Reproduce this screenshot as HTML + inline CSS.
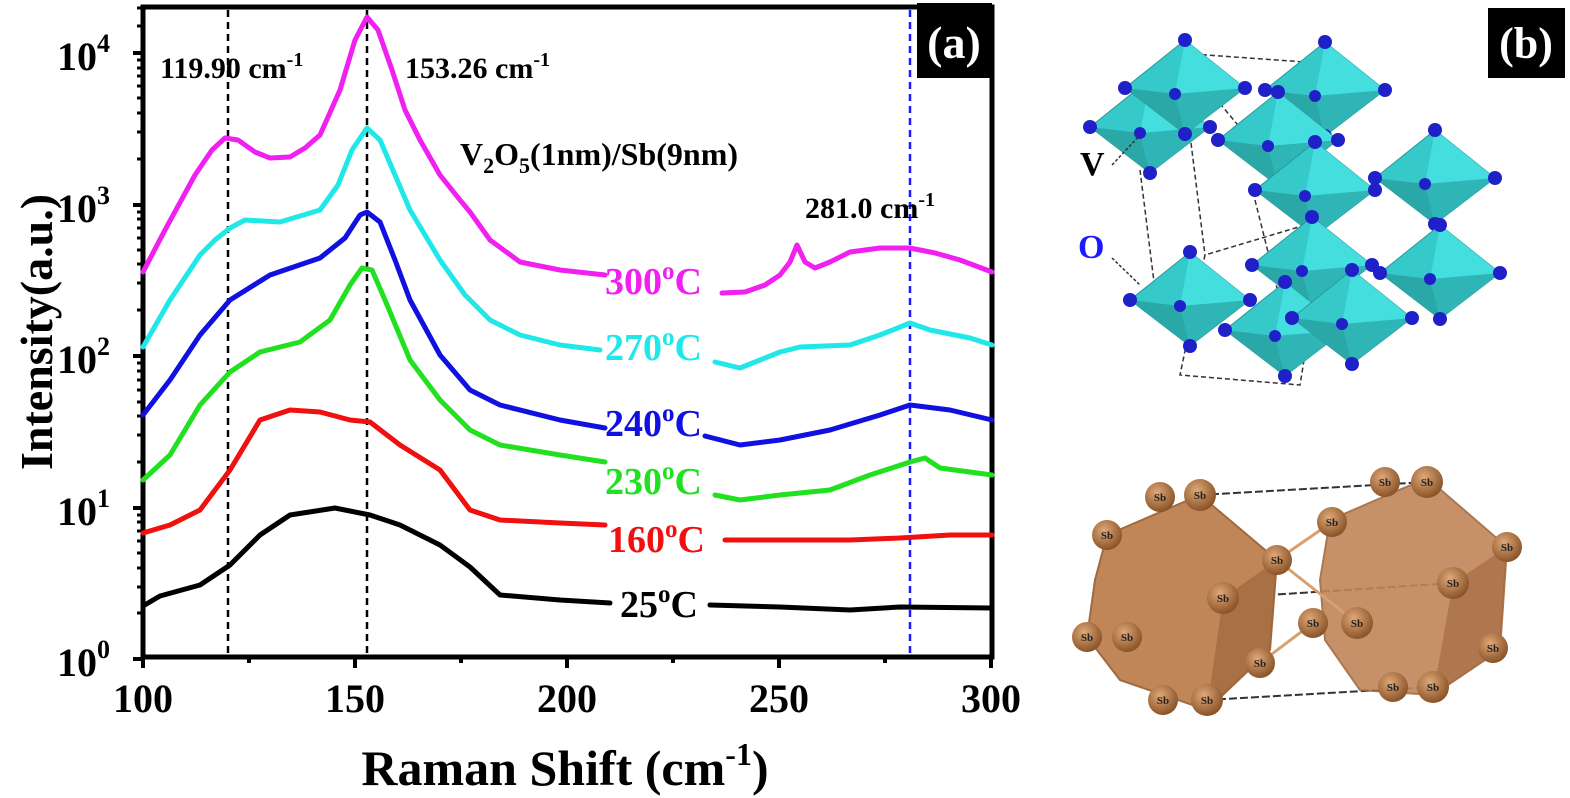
<!DOCTYPE html>
<html><head><meta charset="utf-8"><style>
html,body{margin:0;padding:0;background:#fff;width:1570px;height:798px;overflow:hidden}
svg{display:block}
text{font-family:"Liberation Serif",serif;font-weight:bold}
</style></head><body>
<svg width="1570" height="798" viewBox="0 0 1570 798" xmlns="http://www.w3.org/2000/svg">
<defs>
<g id="oct">
<polygon points="-60,0 0,-48 60,0 0,46" fill="#35c9c9" stroke="#2a9a9a" stroke-width="1"/>
<polygon points="-60,0 -10,6 0,46" fill="#2aa8a8"/>
<polygon points="-10,6 60,0 0,46" fill="#2fb5b5"/>
<polygon points="0,-48 -10,6 60,0" fill="#45dede"/>
<circle cx="-60" cy="0" r="7" fill="#2020c8"/><circle cx="0" cy="-48" r="7" fill="#2020c8"/>
<circle cx="60" cy="0" r="7" fill="#2020c8"/><circle cx="0" cy="46" r="7" fill="#2020c8"/>
<circle cx="-10" cy="6" r="6" fill="#2020c8"/>
</g>
<radialGradient id="sb" cx="40%" cy="35%" r="65%"><stop offset="0" stop-color="#e0a878"/><stop offset="1" stop-color="#8a5428"/></radialGradient>
</defs>

<rect x="143" y="7" width="849" height="650" fill="none" stroke="#000" stroke-width="5"/>
<g stroke="#000" stroke-width="4">
<line x1="143" y1="657" x2="143" y2="668"/><line x1="355" y1="657" x2="355" y2="668"/><line x1="567" y1="657" x2="567" y2="668"/><line x1="779" y1="657" x2="779" y2="668"/><line x1="991" y1="657" x2="991" y2="668"/>
<line x1="249" y1="657" x2="249" y2="663"/><line x1="461" y1="657" x2="461" y2="663"/><line x1="673" y1="657" x2="673" y2="663"/><line x1="885" y1="657" x2="885" y2="663"/>
<line x1="133" y1="53" x2="143" y2="53"/><line x1="133" y1="205" x2="143" y2="205"/><line x1="133" y1="356" x2="143" y2="356"/><line x1="133" y1="508" x2="143" y2="508"/><line x1="133" y1="659" x2="143" y2="659"/>
</g>
<g stroke="#000" stroke-width="3">
<line x1="137" y1="613" x2="143" y2="613"/><line x1="137" y1="587" x2="143" y2="587"/><line x1="137" y1="568" x2="143" y2="568"/><line x1="137" y1="553" x2="143" y2="553"/><line x1="137" y1="541" x2="143" y2="541"/><line x1="137" y1="531" x2="143" y2="531"/><line x1="137" y1="522" x2="143" y2="522"/><line x1="137" y1="515" x2="143" y2="515"/>
<line x1="137" y1="462" x2="143" y2="462"/><line x1="137" y1="435" x2="143" y2="435"/><line x1="137" y1="416" x2="143" y2="416"/><line x1="137" y1="402" x2="143" y2="402"/><line x1="137" y1="390" x2="143" y2="390"/><line x1="137" y1="380" x2="143" y2="380"/><line x1="137" y1="371" x2="143" y2="371"/><line x1="137" y1="363" x2="143" y2="363"/>
<line x1="137" y1="310" x2="143" y2="310"/><line x1="137" y1="283" x2="143" y2="283"/><line x1="137" y1="264" x2="143" y2="264"/><line x1="137" y1="250" x2="143" y2="250"/><line x1="137" y1="238" x2="143" y2="238"/><line x1="137" y1="228" x2="143" y2="228"/><line x1="137" y1="219" x2="143" y2="219"/><line x1="137" y1="212" x2="143" y2="212"/>
<line x1="137" y1="159" x2="143" y2="159"/><line x1="137" y1="132" x2="143" y2="132"/><line x1="137" y1="113" x2="143" y2="113"/><line x1="137" y1="98" x2="143" y2="98"/><line x1="137" y1="86" x2="143" y2="86"/><line x1="137" y1="76" x2="143" y2="76"/><line x1="137" y1="68" x2="143" y2="68"/><line x1="137" y1="60" x2="143" y2="60"/>
<line x1="137" y1="8" x2="143" y2="8"/><line x1="137" y1="26" x2="143" y2="26"/>
</g>
<g font-size="40" text-anchor="middle">
<text x="143" y="712">100</text><text x="355" y="712">150</text><text x="567" y="712">200</text><text x="779" y="712">250</text><text x="991" y="712">300</text>
</g>
<g font-size="40" text-anchor="end">
<text x="110" y="70">10<tspan font-size="26" dy="-18">4</tspan></text>
<text x="110" y="222">10<tspan font-size="26" dy="-18">3</tspan></text>
<text x="110" y="373">10<tspan font-size="26" dy="-18">2</tspan></text>
<text x="110" y="525">10<tspan font-size="26" dy="-18">1</tspan></text>
<text x="110" y="676">10<tspan font-size="26" dy="-18">0</tspan></text>
</g>
<text x="565" y="785" font-size="50" text-anchor="middle">Raman Shift (cm<tspan font-size="32" dy="-20">-1</tspan><tspan dy="20">)</tspan></text>
<text transform="translate(52,332) rotate(-90)" font-size="46" text-anchor="middle">Intensity(a.u.)</text>

<g stroke-width="2.5" stroke-dasharray="7,5" fill="none">
<line x1="228" y1="10" x2="228" y2="655" stroke="#000"/>
<line x1="367" y1="10" x2="367" y2="655" stroke="#000"/>
<line x1="910" y1="10" x2="910" y2="655" stroke="#1a1aff"/>
</g>

<g fill="none" stroke-width="5" stroke-linejoin="round" stroke-linecap="round">
<polyline stroke="#f020f0" points="143,272 165,230 195,175 212,150 225,138 238,140 255,152 270,158 290,157 305,148 320,135 340,90 355,40 367,17 378,30 392,70 405,110 420,140 440,175 460,200 470,212 490,240 520,262 560,270 605,275"/>
<polyline stroke="#f020f0" points="722,293 745,292 765,285 780,275 790,262 797,245 805,262 815,268 830,262 850,252 880,248 910,248 935,253 960,260 992,272"/>
<polyline stroke="#20e8e8" points="143,347 170,300 200,255 215,240 230,228 245,220 280,222 320,210 338,185 352,150 367,128 380,140 395,175 410,210 440,260 465,295 490,320 520,335 560,345 600,350"/>
<polyline stroke="#20e8e8" points="715,362 740,368 760,360 780,352 800,347 850,345 880,335 910,323 930,330 970,338 992,345"/>
<polyline stroke="#1010e0" points="143,415 170,380 200,335 230,300 270,275 320,258 345,238 360,215 367,212 380,222 395,260 410,300 440,355 470,390 500,405 560,420 605,428"/>
<polyline stroke="#1010e0" points="705,436 740,445 780,440 830,430 880,415 910,405 950,410 992,420"/>
<polyline stroke="#20e020" points="143,480 170,455 200,405 230,372 260,352 300,342 330,320 350,285 362,268 372,270 385,300 410,360 440,400 470,430 500,445 560,455 605,462"/>
<polyline stroke="#20e020" points="715,495 740,500 780,495 830,490 870,475 910,462 925,458 940,468 992,475"/>
<polyline stroke="#f01010" points="143,533 170,525 200,510 230,470 260,420 290,410 320,412 350,420 370,422 400,445 440,470 470,510 500,520 560,523 605,525"/>
<polyline stroke="#f01010" points="725,540 780,540 850,540 900,538 950,535 992,535"/>
<polyline stroke="#000" points="143,606 160,596 200,585 230,565 260,535 290,515 335,508 370,515 400,525 440,545 470,567 500,595 560,600 610,603"/>
<polyline stroke="#000" points="710,605 780,607 850,610 900,607 992,608"/>
</g>

<g font-size="38">
<text x="605" y="294" fill="#f020f0">300<tspan font-size="25" dy="-15">o</tspan><tspan dy="15">C</tspan></text>
<text x="605" y="360" fill="#20e8e8">270<tspan font-size="25" dy="-15">o</tspan><tspan dy="15">C</tspan></text>
<text x="605" y="436" fill="#1010e0">240<tspan font-size="25" dy="-15">o</tspan><tspan dy="15">C</tspan></text>
<text x="605" y="494" fill="#20e020">230<tspan font-size="25" dy="-15">o</tspan><tspan dy="15">C</tspan></text>
<text x="608" y="552" fill="#f01010">160<tspan font-size="25" dy="-15">o</tspan><tspan dy="15">C</tspan></text>
<text x="620" y="617" fill="#000">25<tspan font-size="25" dy="-15">o</tspan><tspan dy="15">C</tspan></text>
</g>
<text x="160" y="78" font-size="30">119.90 cm<tspan font-size="20" dy="-12">-1</tspan></text>
<text x="405" y="78" font-size="30">153.26 cm<tspan font-size="20" dy="-12">-1</tspan></text>
<text x="805" y="218" font-size="30">281.0 cm<tspan font-size="20" dy="-12">-1</tspan></text>
<text x="460" y="165" font-size="32">V<tspan font-size="22" dy="8">2</tspan><tspan dy="-8">O</tspan><tspan font-size="22" dy="8">5</tspan><tspan dy="-8">(1nm)/Sb(9nm)</tspan></text>

<rect x="917" y="3" width="75" height="75" fill="#000"/>
<text x="954" y="58" font-size="46" fill="#fff" text-anchor="middle">(a)</text>
<rect x="1488" y="8" width="77" height="70" fill="#000"/>
<text x="1526" y="58" font-size="44" fill="#fff" text-anchor="middle">(b)</text>

<g stroke="#333" stroke-width="1.5" stroke-dasharray="5,3" fill="none">
<polygon points="1178,53 1305,62 1322,220 1205,255 1180,375 1300,385 1325,230"/>
<line x1="1190" y1="135" x2="1205" y2="255"/><line x1="1255" y1="200" x2="1280" y2="300"/><line x1="1140" y1="170" x2="1155" y2="290"/>
</g>
<use href="#oct" x="1150" y="127"/>
<use href="#oct" x="1185" y="88"/>
<use href="#oct" x="1325" y="90"/>
<use href="#oct" x="1278" y="140"/>
<use href="#oct" x="1315" y="190"/>
<use href="#oct" x="1435" y="178"/>
<use href="#oct" x="1312" y="265"/>
<use href="#oct" x="1440" y="273"/>
<use href="#oct" x="1190" y="300"/>
<use href="#oct" x="1285" y="330"/>
<use href="#oct" x="1352" y="318"/>
<text x="1080" y="175" font-size="34" fill="#000">V</text>
<text x="1078" y="258" font-size="34" fill="#1a1aff">O</text>
<g stroke="#333" stroke-width="1.5" stroke-dasharray="3,2"><line x1="1112" y1="165" x2="1140" y2="135"/><line x1="1112" y1="258" x2="1140" y2="285"/></g>

<g stroke="#333" stroke-width="2" stroke-dasharray="8,3"><line x1="1200" y1="495" x2="1427" y2="482"/><line x1="1207" y1="700" x2="1433" y2="687"/><line x1="1223" y1="598" x2="1453" y2="583"/></g>
<polygon points="1107,535 1200,495 1277,560 1270,650 1207,710 1120,680 1087,637 1095,580" fill="#c08658" stroke="#a06a40" stroke-width="2"/>
<polygon points="1223,598 1277,560 1270,650 1207,710" fill="#9a6236" opacity="0.6"/>
<polygon points="1330,520 1427,478 1507,547 1500,650 1433,695 1360,690 1325,640 1320,580" fill="#c08658" stroke="#a06a40" stroke-width="2" opacity="0.9"/>
<polygon points="1453,583 1507,547 1500,650 1433,695" fill="#9a6236" opacity="0.55"/>
<g stroke="#d8a070" stroke-width="3"><line x1="1277" y1="560" x2="1332" y2="522"/><line x1="1260" y1="663" x2="1313" y2="623"/><line x1="1277" y1="560" x2="1357" y2="623"/></g>
<g fill="url(#sb)">
<circle cx="1160" cy="497" r="15"/><circle cx="1200" cy="495" r="16"/><circle cx="1107" cy="535" r="15"/><circle cx="1277" cy="560" r="15"/><circle cx="1223" cy="598" r="16"/><circle cx="1087" cy="637" r="15"/><circle cx="1127" cy="637" r="15"/><circle cx="1260" cy="663" r="15"/><circle cx="1163" cy="700" r="15"/><circle cx="1207" cy="700" r="16"/>
<circle cx="1385" cy="482" r="15"/><circle cx="1427" cy="482" r="16"/><circle cx="1332" cy="522" r="15"/><circle cx="1507" cy="547" r="15"/><circle cx="1453" cy="583" r="16"/><circle cx="1313" cy="623" r="15"/><circle cx="1357" cy="623" r="16"/><circle cx="1493" cy="648" r="15"/><circle cx="1393" cy="687" r="15"/><circle cx="1433" cy="687" r="16"/>
</g>
<g font-family="Liberation Sans, sans-serif" font-size="11" fill="#222" text-anchor="middle">
<text x="1160" y="501">Sb</text><text x="1200" y="499">Sb</text><text x="1107" y="539">Sb</text><text x="1277" y="564">Sb</text><text x="1223" y="602">Sb</text><text x="1087" y="641">Sb</text><text x="1127" y="641">Sb</text><text x="1260" y="667">Sb</text><text x="1163" y="704">Sb</text><text x="1207" y="704">Sb</text>
<text x="1385" y="486">Sb</text><text x="1427" y="486">Sb</text><text x="1332" y="526">Sb</text><text x="1507" y="551">Sb</text><text x="1453" y="587">Sb</text><text x="1313" y="627">Sb</text><text x="1357" y="627">Sb</text><text x="1493" y="652">Sb</text><text x="1393" y="691">Sb</text><text x="1433" y="691">Sb</text>
</g>
</svg>
</body></html>
